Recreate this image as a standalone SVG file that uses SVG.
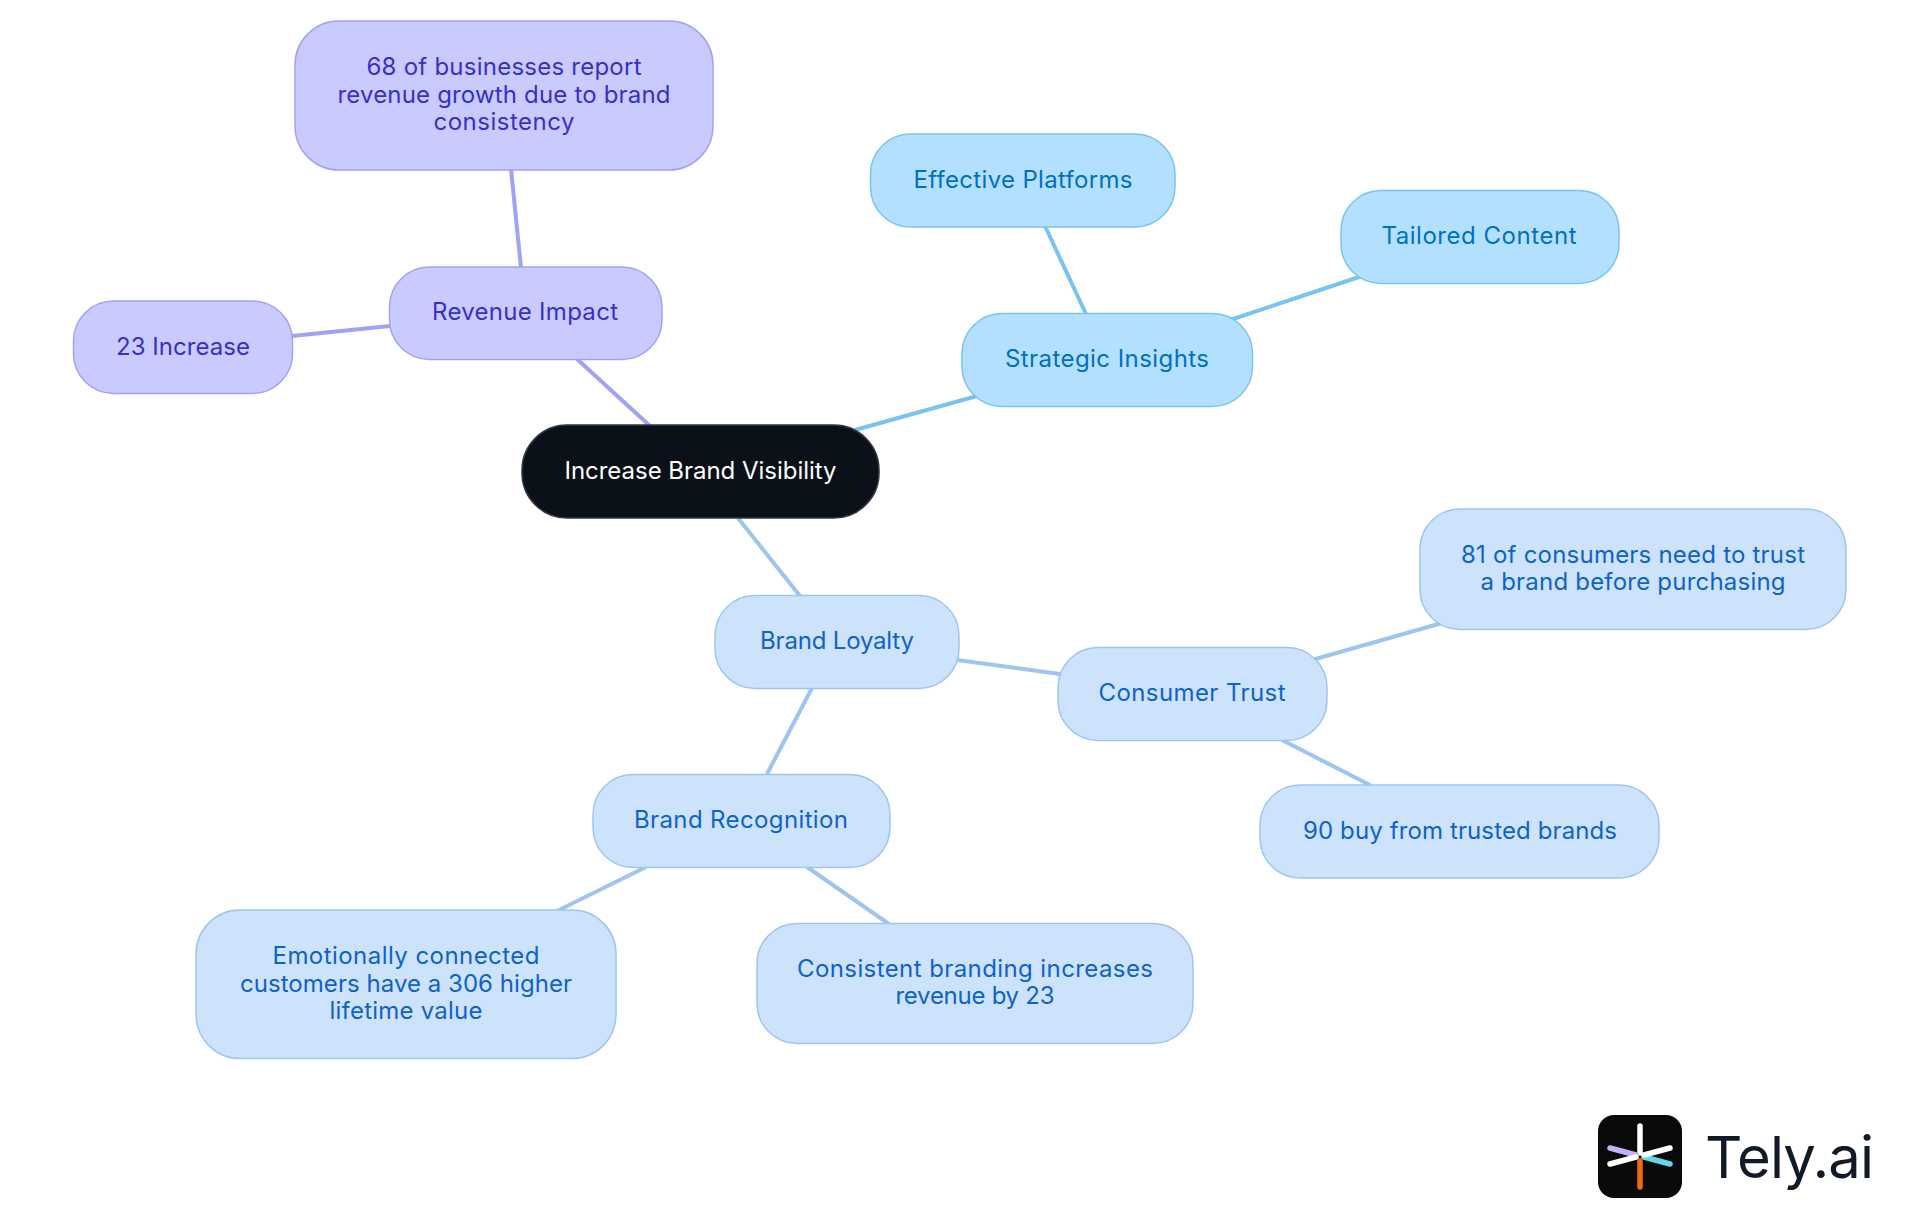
<svg xmlns="http://www.w3.org/2000/svg" width="1920" height="1215" viewBox="0 0 1920 1215">
<style>
text{font-family:Inter,"Noto Sans",sans-serif;font-size:24px;text-anchor:middle}
.n{stroke-width:1.5}
.p rect{fill:#c9cbff;stroke:#a0a3f5}.p text{fill:#3730c8}
.s rect{fill:#b3e0ff;stroke:#7ac3f0}.s text{fill:#0070c0}
.b rect{fill:#cde3fc;stroke:#9dc5f0}.b text{fill:#0f62c8}
#connectors line{stroke-width:4;fill:none}
.cp{stroke:#a0a3f5}.cs{stroke:#7ac3f0}.cb{stroke:#9dc5f0}
</style>
<rect width="1920" height="1215" fill="#fff"/>
<g id="connectors">
<line class="cp" x1="650" y1="426" x2="577" y2="359"/>
<line class="cp" x1="521" y1="268" x2="511" y2="169"/>
<line class="cp" x1="390" y1="326" x2="292" y2="336"/>
<line class="cs" x1="855" y1="430" x2="977" y2="396"/>
<line class="cs" x1="1086" y1="314" x2="1045" y2="226"/>
<line class="cs" x1="1230" y1="320" x2="1362" y2="276"/>
<line class="cb" x1="738" y1="518" x2="800" y2="596"/>
<line class="cb" x1="957" y1="660" x2="1060" y2="674"/>
<line class="cb" x1="812" y1="688" x2="767" y2="774"/>
<line class="cb" x1="1312" y1="660" x2="1442" y2="623"/>
<line class="cb" x1="1282" y1="740" x2="1370" y2="785"/>
<line class="cb" x1="646" y1="867" x2="557" y2="911"/>
<line class="cb" x1="807" y1="867" x2="889" y2="924"/>
</g>
<g id="n-center"><rect x="522" y="425" width="357" height="93" rx="45" fill="#0b1119" stroke="#33383f" stroke-width="1.5"/><text x="700.500" y="479" fill="#fff" textLength="272">Increase Brand Visibility</text></g>
<g id="n-revenue" class="p"><rect class="n" x="389.500" y="267" width="272.500" height="92.500" rx="40"/><text x="525" y="319.500" textLength="186">Revenue Impact</text></g>
<g id="n-68" class="p"><rect class="n" x="295" y="21" width="418" height="149" rx="44"/><text x="504" y="75" textLength="275">68 of businesses report</text><text x="504" y="103" textLength="333">revenue growth due to brand</text><text x="504" y="130" textLength="141">consistency</text></g>
<g id="n-23" class="p"><rect class="n" x="73.500" y="301" width="219" height="92.500" rx="40"/><text x="183" y="355" textLength="134">23 Increase</text></g>
<g id="n-strategic" class="s"><rect class="n" x="962" y="313.500" width="290.500" height="93" rx="40"/><text x="1107" y="366.500" textLength="204">Strategic Insights</text></g>
<g id="n-effective" class="s"><rect class="n" x="870.500" y="134" width="304.500" height="93" rx="40"/><text x="1023" y="188" textLength="219">Effective Platforms</text></g>
<g id="n-tailored" class="s"><rect class="n" x="1341" y="190.500" width="278" height="93" rx="40"/><text x="1479" y="243.500" textLength="195">Tailored Content</text></g>
<g id="n-loyalty" class="b"><rect class="n" x="715" y="595.500" width="244" height="93" rx="40"/><text x="837" y="648.500" textLength="154">Brand Loyalty</text></g>
<g id="n-trust" class="b"><rect class="n" x="1058" y="647.500" width="269" height="93" rx="40"/><text x="1192" y="700.500" textLength="187">Consumer Trust</text></g>
<g id="n-81" class="b"><rect class="n" x="1420" y="509" width="426" height="120.500" rx="40"/><text x="1633" y="563" textLength="344">81 of consumers need to trust</text><text x="1633" y="590" textLength="305">a brand before purchasing</text></g>
<g id="n-90" class="b"><rect class="n" x="1260" y="785" width="399" height="93" rx="40"/><text x="1460" y="839" textLength="314">90 buy from trusted brands</text></g>
<g id="n-recognition" class="b"><rect class="n" x="593" y="774.500" width="297" height="93" rx="40"/><text x="741" y="827.500" textLength="214">Brand Recognition</text></g>
<g id="n-emotion" class="b"><rect class="n" x="196" y="910" width="420" height="148.500" rx="44"/><text x="406" y="964" textLength="267">Emotionally connected</text><text x="406" y="992" textLength="332">customers have a 306 higher</text><text x="406" y="1019" textLength="153">lifetime value</text></g>
<g id="n-consistent" class="b"><rect class="n" x="757" y="923.500" width="436" height="120" rx="40"/><text x="975" y="977" textLength="356">Consistent branding increases</text><text x="975" y="1004" textLength="159">revenue by 23</text></g>
<g id="logo">
<rect x="1598" y="1115" width="84" height="83" rx="16" fill="#0a0a0a"/>
<g stroke-width="5.500" stroke-linecap="round" fill="none">
<path d="M1640 1126V1153" stroke="#fff"/>
<path d="M1640 1161V1187" stroke="#f26a10"/>
<path d="M1610 1148L1636 1155" stroke="#c4aef5"/>
<path d="M1644 1157L1670 1164" stroke="#5fd8ea"/>
<path d="M1610 1164L1636 1157" stroke="#fff"/>
<path d="M1644 1155L1670 1148" stroke="#fff"/>
</g>
<text x="1705" y="1178" fill="#111a26" style="font-size:58px;text-anchor:start" textLength="169">Tely.ai</text>
</g>
</svg>
